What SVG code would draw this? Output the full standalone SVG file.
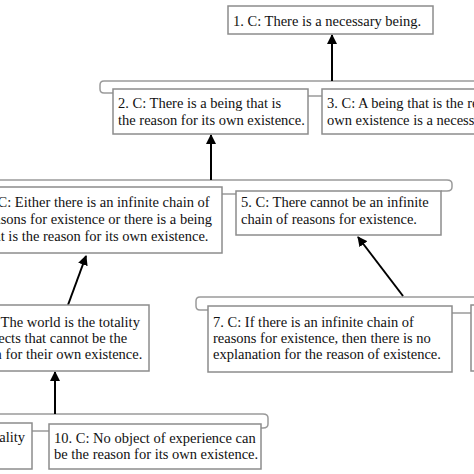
<svg xmlns="http://www.w3.org/2000/svg" width="474" height="474" viewBox="0 0 474 474">
<defs>
<style>
.box{fill:#fff;stroke:#8c8c8c;stroke-width:1.5}
.br{fill:none;stroke:#9a9a9a;stroke-width:1.5}
.arr{fill:none;stroke:#000;stroke-width:2;marker-end:url(#ah)}
text{font-family:"Liberation Serif","DejaVu Serif",serif;font-size:14.5px;fill:#111}
</style>
<marker id="ah" viewBox="0 0 10 10" refX="9" refY="5" markerWidth="5" markerHeight="5" markerUnits="strokeWidth" orient="auto">
<path d="M0,0 L10,5 L0,10 z" fill="#000"/>
</marker>
</defs>
<rect width="474" height="474" fill="#fff"/>
<g id="connectors">
<path class="br" d="M113 93 H104 Q100 93 100 89 V85 Q100 81 104 81 H480"/>
<path class="br" d="M308 96 H322"/>
<path class="br" d="M-10 180 H447 Q452 180 452 184 V187 Q452 191 447 191 H441"/>
<path class="br" d="M222 194 H236"/>
<path class="br" d="M208 310 H200 Q196 310 196 306 V301 Q196 297 200 297 H480"/>
<path class="br" d="M452 313 H471"/>
<path class="br" d="M-10 414 H263 Q268 414 268 418 V424 Q268 428 263 428 H261"/>
<path class="br" d="M32 431 H49"/>
<path class="arr" d="M332 81 V35"/>
<path class="arr" d="M211 180 V135"/>
<path class="arr" d="M403 296 L358 237"/>
<path class="arr" d="M68 305 L86 256"/>
<path class="arr" d="M55 414 V372"/>
</g>
<g id="n1"><rect class="box" x="228" y="6" width="205" height="28"/><text x="233" y="26">1. C: There is a necessary being.</text></g>
<g id="n2"><rect class="box" x="113" y="89" width="195" height="45"/><text x="118" y="108">2. C: There is a being that is</text><text x="118" y="125">the reason for its own existence.</text></g>
<g id="n3"><rect class="box" x="322" y="89" width="190" height="45"/><text x="327" y="108">3. C: A being that is the reason for its</text><text x="327" y="125">own existence is a necessary being.</text></g>
<g id="n4"><rect class="box" x="-20" y="187" width="242" height="66"/><text x="-17" y="207">4. C: Either there is an infinite chain of</text><text x="-17" y="224">reasons for existence or there is a being</text><text x="-17" y="241">that is the reason for its own existence.</text></g>
<g id="n5"><rect class="box" x="236" y="191" width="205" height="44"/><text x="241" y="207">5. C: There cannot be an infinite</text><text x="241" y="224">chain of reasons for existence.</text></g>
<g id="n6"><rect class="box" x="-20" y="305" width="169" height="66"/><text x="-31" y="327">6. C: The world is the totality</text><text x="-36" y="343">of objects that cannot be the</text><text x="-36" y="359">reason for their own existence.</text></g>
<g id="n7"><rect class="box" x="208" y="306" width="244" height="66"/><text x="213" y="327">7. C: If there is an infinite chain of</text><text x="213" y="343">reasons for existence, then there is no</text><text x="213" y="359">explanation for the reason of existence.</text></g>
<g id="n8"><rect class="box" x="471" y="305" width="40" height="66"/></g>
<g id="n9"><rect class="box" x="-40" y="423" width="72" height="46"/><text x="25" y="442" text-anchor="end">totality</text></g>
<g id="n10"><rect class="box" x="49" y="424" width="212" height="45"/><text x="54" y="443">10. C: No object of experience can</text><text x="54" y="459">be the reason for its own existence.</text></g>
</svg>
